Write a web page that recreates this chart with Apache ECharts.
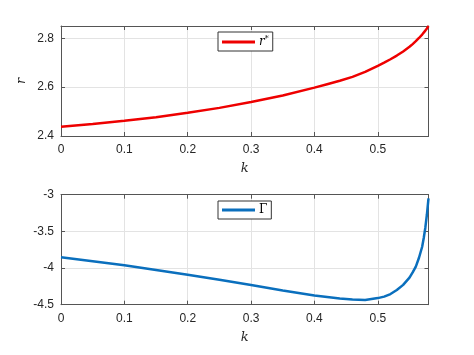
<!DOCTYPE html>
<html>
<head>
<meta charset="utf-8">
<script src="https://cdn.jsdelivr.net/npm/echarts@6/dist/echarts.min.js"></script>
<style>
  html, body { margin: 0; padding: 0; background: #fff; }
  #main { width: 474px; height: 355px; }
</style>
</head>
<body>
<div id="main"></div>
<script>
// k values (shared by both panels)
const kValues = [0, 0.05, 0.1, 0.15, 0.2, 0.25, 0.3, 0.35, 0.4, 0.42, 0.44, 0.46, 0.48, 0.5,
  0.51, 0.52, 0.53, 0.54, 0.55, 0.555, 0.56, 0.565, 0.57, 0.5725, 0.575, 0.5775, 0.58];
// r* (top panel)
const rStar = [2.438, 2.449, 2.462, 2.477, 2.495, 2.515, 2.539, 2.566, 2.598, 2.612, 2.626, 2.642,
  2.662, 2.687, 2.700, 2.714, 2.729, 2.746, 2.765, 2.776, 2.788, 2.801, 2.815, 2.823, 2.831, 2.840, 2.85];
// Gamma (bottom panel)
const gamma = [-3.854, -3.908, -3.963, -4.026, -4.091, -4.160, -4.232, -4.305, -4.375, -4.395,
  -4.415, -4.428, -4.435, -4.41, -4.39, -4.355, -4.30, -4.23, -4.13, -4.06, -3.98, -3.86, -3.71,
  -3.59, -3.45, -3.27, -3.05];

const xTicks = { min: 0, max: 0.58, interval: 0.1 };
const topY = { min: 2.4, max: 2.85, interval: 0.2 };
const bottomY = { min: -4.5, max: -3, interval: 0.5 };

const axisColor = '#555';
const gridColor = '#e3e3e3';
const labelFont = { color: '#262626', fontSize: 12, fontFamily: 'Liberation Sans' };
const mathFont = { fontFamily: 'DejaVu Serif', fontStyle: 'italic', fontSize: 13, color: '#262626' };
const frameLine = { show: true, onZero: false, lineStyle: { color: axisColor, width: 1 } };

const chart = echarts.init(document.getElementById('main'));

function mainX(gridIndex) {
  return {
    type: 'value', gridIndex, min: xTicks.min, max: xTicks.max, interval: xTicks.interval,
    name: 'k', nameLocation: 'middle', nameGap: 26, nameTextStyle: mathFont,
    axisLine: frameLine,
    axisTick: { show: true, inside: true, length: 4, lineStyle: { color: axisColor } },
    axisLabel: Object.assign({ margin: 8, showMaxLabel: false }, labelFont),
    splitLine: { show: true, lineStyle: { color: gridColor, width: 1 } }
  };
}
function mirrorX(gridIndex) {
  return {
    type: 'value', gridIndex, position: 'top', min: xTicks.min, max: xTicks.max, interval: xTicks.interval,
    axisLine: frameLine,
    axisTick: { show: true, inside: true, length: 4, lineStyle: { color: axisColor } },
    axisLabel: { show: false }, splitLine: { show: false }
  };
}
function mainY(gridIndex, range, name) {
  return {
    type: 'value', gridIndex, min: range.min, max: range.max, interval: range.interval,
    name: name, nameLocation: 'middle', nameGap: 33, nameRotate: 90, nameMoveOverlap: false,
    nameTextStyle: mathFont,
    axisLine: frameLine,
    axisTick: { show: true, inside: true, length: 4, lineStyle: { color: axisColor } },
    axisLabel: Object.assign({ margin: 7, showMaxLabel: range.max % range.interval === 0 }, labelFont),
    splitLine: { show: true, lineStyle: { color: gridColor, width: 1 } }
  };
}
function mirrorY(gridIndex, range) {
  return {
    type: 'value', gridIndex, position: 'right', min: range.min, max: range.max, interval: range.interval,
    axisLine: frameLine,
    axisTick: { show: true, inside: true, length: 4, lineStyle: { color: axisColor } },
    axisLabel: { show: false }, splitLine: { show: false }
  };
}
function legendBox(top, name) {
  return {
    data: [name], left: 218, top: top, orient: 'horizontal',
    icon: 'rect', itemWidth: 33, itemHeight: 3, itemGap: 4,
    padding: [3, 4, 3, 4], borderColor: '#333', borderWidth: 1, backgroundColor: '#fff',
    formatter: function (n) { return n === 'r' ? '{i|r}{s|*}' : '{g|Γ}'; },
    textStyle: {
      padding: [0, 0, 0, -1],
      rich: {
        i: { fontFamily: 'DejaVu Serif', fontStyle: 'italic', fontSize: 12, color: '#000' },
        s: { fontFamily: 'DejaVu Serif', fontSize: 8, color: '#000', padding: [0, 0, 6, 0] },
        g: { fontFamily: 'DejaVu Serif', fontSize: 12, color: '#000' }
      }
    }
  };
}

const option = {
  animation: false,
  backgroundColor: '#fff',
  grid: [
    { left: 61, top: 26, width: 367.5, height: 110 },
    { left: 61, top: 194.7, width: 367.5, height: 110 }
  ],
  xAxis: [mainX(0), mirrorX(0), mainX(1), mirrorX(1)],
  yAxis: [mainY(0, topY, 'r'), mirrorY(0, topY), mainY(1, bottomY, ''), mirrorY(1, bottomY)],
  legend: [legendBox(32, 'r'), legendBox(201, 'Γ')],
  series: [
    {
      name: 'r', type: 'line', xAxisIndex: 0, yAxisIndex: 0,
      data: kValues.map((k, i) => [k, rStar[i]]),
      showSymbol: false, smooth: false, color: '#ee0000',
      lineStyle: { width: 2.5, color: '#ee0000' }
    },
    {
      name: 'Γ', type: 'line', xAxisIndex: 2, yAxisIndex: 2,
      data: kValues.map((k, i) => [k, gamma[i]]),
      showSymbol: false, smooth: false, color: '#0a6fbd',
      lineStyle: { width: 2.5, color: '#0a6fbd' }
    }
  ]
};

chart.setOption(option);
</script>
</body>
</html>
